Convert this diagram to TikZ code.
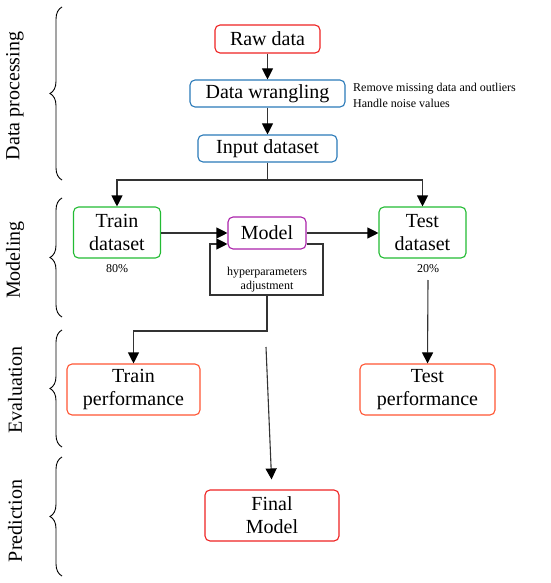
\documentclass[tikz,border=0pt]{standalone}
\usepackage{fontspec}
\setmainfont{Liberation Serif}
\usetikzlibrary{arrows.meta,decorations.pathreplacing,calc}
\definecolor{cred}{HTML}{EE2222}
\definecolor{cblue}{HTML}{2A7AB8}
\definecolor{cgreen}{HTML}{22BB33}
\definecolor{cpurple}{HTML}{AA22AA}
\definecolor{corange}{HTML}{FF5533}
\definecolor{cline}{HTML}{333333}
\begin{document}
\begin{tikzpicture}[x=1pt,y=-1pt,
  box/.style={draw,rounded corners=5pt,line width=1.1pt,inner sep=0pt,align=center,font=\fontsize{20}{23}\selectfont},
  small/.style={font=\fontsize{12}{16}\selectfont,inner sep=0pt},
  conn/.style={draw=cline,line width=1.1pt},
  arr/.style={conn,-{Triangle[length=11pt,width=11pt,color=black]}},
  brc/.style={decorate,decoration={brace,amplitude=12pt},line width=0.9pt},
  lab/.style={rotate=90,font=\fontsize{20}{24}\selectfont,inner sep=0pt}]
\useasboundingbox (0,0) rectangle (550,583);
% nodes
\node[box,draw=cred,minimum width=105pt,minimum height=28pt] (raw) at (267.5,39) {Raw data};
\node[box,draw=cblue,minimum width=155pt,minimum height=27pt] (wr) at (267.5,93.5) {Data wrangling};
\node[small,anchor=west,align=left] (note) at (353,95) {Remove missing data and outliers\\Handle noise values};
\node[box,draw=cblue,minimum width=139pt,minimum height=27pt] (in) at (267.5,148.5) {Input dataset};
\node[box,draw=cgreen,minimum width=87pt,minimum height=51pt] (tr) at (117,232.5) {Train\\dataset};
\node[box,draw=cpurple,minimum width=78pt,minimum height=32pt] (m) at (267,233) {Model};
\node[box,draw=cgreen,minimum width=87pt,minimum height=51pt] (te) at (422.5,232.5) {Test\\dataset};
\node[small] (p80) at (117,269) {80\%};
\node[small] (p20) at (428,269) {20\%};
\node[small,align=center,font=\fontsize{12}{14.5}\selectfont] (hyp) at (267,279.5) {hyperparameters\\adjustment};
\node[box,draw=corange,minimum width=133pt,minimum height=51pt] (trp) at (133.5,389.5) {Train\\performance};
\node[box,draw=corange,minimum width=135pt,minimum height=51pt] (tep) at (427.5,389.5) {Test\\performance};
\node[box,draw=cred,minimum width=134pt,minimum height=51pt] (fm) at (272,515.5) {Final\\Model};
% side labels
\node[lab] (l1) at (15,96) {Data processing};
\node[lab] (l2) at (15,260) {Modeling};
\node[lab] (l3) at (15,390) {Evaluation};
\node[lab] (l4) at (15,521) {Prediction};
% braces
\draw[brc] (62,180) -- (62,7);
\draw[brc] (62,317) -- (62,198);
\draw[brc] (62,447) -- (62,330);
\draw[brc] (62,576) -- (62,457);
% connectors
\draw[arr] (raw) -- (wr);
\draw[arr] (wr) -- (in);
\coordinate (sp) at (267.5,180);
\draw[conn] (in.south) -- (sp);
\draw[arr] (sp) -| (tr.north);
\draw[arr] (sp) -| (te.north);
\draw[arr] (tr.east |- m.west) -- (m.west);
\draw[arr] (m.east) -- (te.west |- m.east);
\coordinate (lr) at (323,244);
\coordinate (lbr) at (323,295);
\coordinate (lbl) at (210,295);
\coordinate (ll) at (210,244);
\coordinate (lb) at (267,295);
\draw[arr] (lr -| m.east) -- (lr) -- (lbr) -- (lbl) -- (ll) -- (ll -| m.west);
\coordinate (bend) at (267,331);
\draw[arr] (lb) -- (bend) -| (trp.north);
\coordinate (ts) at (428,280);
\draw[arr] (ts) -- (tep.north);
\coordinate (cs) at (266,347);
\draw[arr,shorten >=10pt] (cs) -- (fm.north);
\end{tikzpicture}
\end{document}
